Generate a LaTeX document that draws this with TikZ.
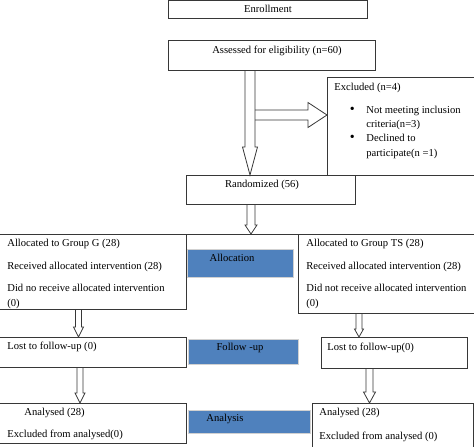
\documentclass[tikz,border=0pt]{standalone}
\usepackage{fontspec}
\setmainfont{Liberation Serif}
\usetikzlibrary{calc}
\definecolor{stage}{RGB}{79, 129, 189}
\definecolor{edge}{RGB}{55, 55, 55}

\begin{document}
\begin{tikzpicture}[x=1pt, y=-1pt, line width=0.8pt,
        font=\fontsize{10.6}{12}\selectfont,
        box/.style={draw=edge, inner sep=0pt, anchor=north west},
        txt/.style={inner sep=0pt, anchor=west, text height=7.5pt, text depth=2.3pt},
        stagebox/.style={fill=stage, draw=black!18, line width=1.2pt, inner sep=0pt, anchor=north west},
        hollowdown/.style n args={3}{to path={let \p1=(\tikztostart), \p2=(\tikztotarget) in
            (\x1-#1,\y1) -- (\x1-#1,\y2+#3) -- (\x1-#2,\y2+#3) -- (\x1,\y2)
            -- (\x1+#2,\y2+#3) -- (\x1+#1,\y2+#3) -- (\x1+#1,\y1)}},
        hollowright/.style n args={3}{to path={let \p1=(\tikztostart), \p2=(\tikztotarget) in
            (\x1,\y1+#1) -- (\x2-#3,\y1+#1) -- (\x2-#3,\y1+#2) -- (\x2,\y1)
            -- (\x2-#3,\y1-#2) -- (\x2-#3,\y1-#1) -- (\x1,\y1-#1)}}]

        \useasboundingbox (0,0) rectangle (474,447);

        % Enrollment
        \node[box, minimum width=199pt, minimum height=18pt] (enroll) at (168,0) {};
        \node[txt, anchor=center] (enrolltxt) at (268,10) {Enrollment};

        \node[box, minimum width=207pt, minimum height=30pt] (assess) at (168,40) {};
        \node[txt, anchor=center] (assesstxt) at (277,51) {Assessed for eligibility (n=60)};

        \node[box, minimum width=146.5pt, minimum height=98pt] (excl) at (327,77) {};
        \node[txt] (excltxt) at (334,88) {Excluded (n=4)};
        \node[txt] (bulA) at (349.5,111) {\fontsize{14}{14}\selectfont\textbullet};
        \node[txt] (exclA) at (366,111) {Not meeting inclusion};
        \node[txt] (exclB) at (366,125) {criteria(n=3)};
        \node[txt] (bulB) at (349.5,139) {\fontsize{14}{14}\selectfont\textbullet};
        \node[txt] (exclC) at (366,139) {Declined to};
        \node[txt] (exclD) at (366,154) {participate(n =1)};

        \node[box, minimum width=169pt, minimum height=29pt] (rand) at (186,175) {};
        \node[txt, anchor=center] (randtxt) at (262,185) {Randomized (56)};

        \draw[edge] ([xshift=82pt]assess.south west) to[hollowdown={5pt}{7.5pt}{28pt}] (rand.north);
        \coordinate (branch) at (255,115);
        \draw[edge] (branch) to[hollowright={5pt}{12.5pt}{19pt}] (excl.west |- branch);

        % Allocation
        \node[box, minimum width=189pt, minimum height=75pt] (grpG) at (-3,234) {};
        \node[box, minimum width=175.5pt, minimum height=79pt] (grpTS) at (298,234) {};
        \draw[edge] (grpG.north east) -- (grpTS.north west);

        \draw[edge] ([xshift=65pt]rand.south west) to[hollowdown={4pt}{6pt}{9pt}] (grpG.north);

        \node[txt] (grpGa) at (7,244) {Allocated to Group G (28)};
        \node[txt] (grpGb) at (7,267) {Received allocated intervention (28)};
        \node[txt] (grpGc) at (7,289) {Did no receive allocated intervention};
        \node[txt] (grpGd) at (7,304) {(0)};

        \node[txt] (grpTSa) at (306,244) {Allocated to Group TS (28)};
        \node[txt] (grpTSb) at (306,267) {Received allocated intervention (28)};
        \node[txt] (grpTSc) at (306,289) {Did not receive allocated intervention};
        \node[txt] (grpTSd) at (306,304) {(0)};

        \node[stagebox, minimum width=106pt, minimum height=28pt] (alloc) at (187,249) {};
        \node[txt, anchor=center] (alloctxt) at (232,259) {Allocation};

        % Follow-up
        \node[box, minimum width=189pt, minimum height=30pt] (lostG) at (-3,337) {};
        \node[txt] (lostGtxt) at (7,347) {Lost to follow-up (0)};
        \node[box, minimum width=146pt, minimum height=31pt] (lostTS) at (321,337) {};
        \node[txt] (lostTStxt) at (327,348) {Lost to follow-up(0)};

        \node[stagebox, minimum width=110pt, minimum height=25pt] (follow) at (188,339) {};
        \node[txt, anchor=center] (followtxt) at (240,348) {Follow -up};

        \draw[edge] ([xshift=81.5pt]grpG.south west) to[hollowdown={3pt}{5pt}{10pt}] (lostG.north);
        \draw[edge] ([xshift=61pt]grpTS.south west) to[hollowdown={3pt}{4.5pt}{8pt}] (lostTS.north);

        % Analysis
        \node[box, minimum width=189pt, minimum height=40pt] (anaG) at (-3,403) {};
        \node[txt] (anaGa) at (24,413) {Analysed (28)};
        \node[txt] (anaGb) at (7,435) {Excluded from analysed(0)};
        \node[box, minimum width=161pt, minimum height=50pt] (anaTS) at (312,403) {};
        \node[txt] (anaTSa) at (319,413) {Analysed (28)};
        \node[txt] (anaTSb) at (319,437) {Excluded from analysed (0)};

        \node[stagebox, minimum width=122pt, minimum height=23pt] (ana) at (188,410) {};
        \node[txt, anchor=center] (anatxt) at (225,419) {Analysis};

        \draw[edge] ([xshift=83pt]lostG.south west) to[hollowdown={3pt}{5pt}{10pt}] (anaG.north);
        \draw[edge] ([xshift=48.5pt]lostTS.south west) to[hollowdown={3.5pt}{6pt}{11pt}] (anaTS.north);
\end{tikzpicture}
\end{document}
